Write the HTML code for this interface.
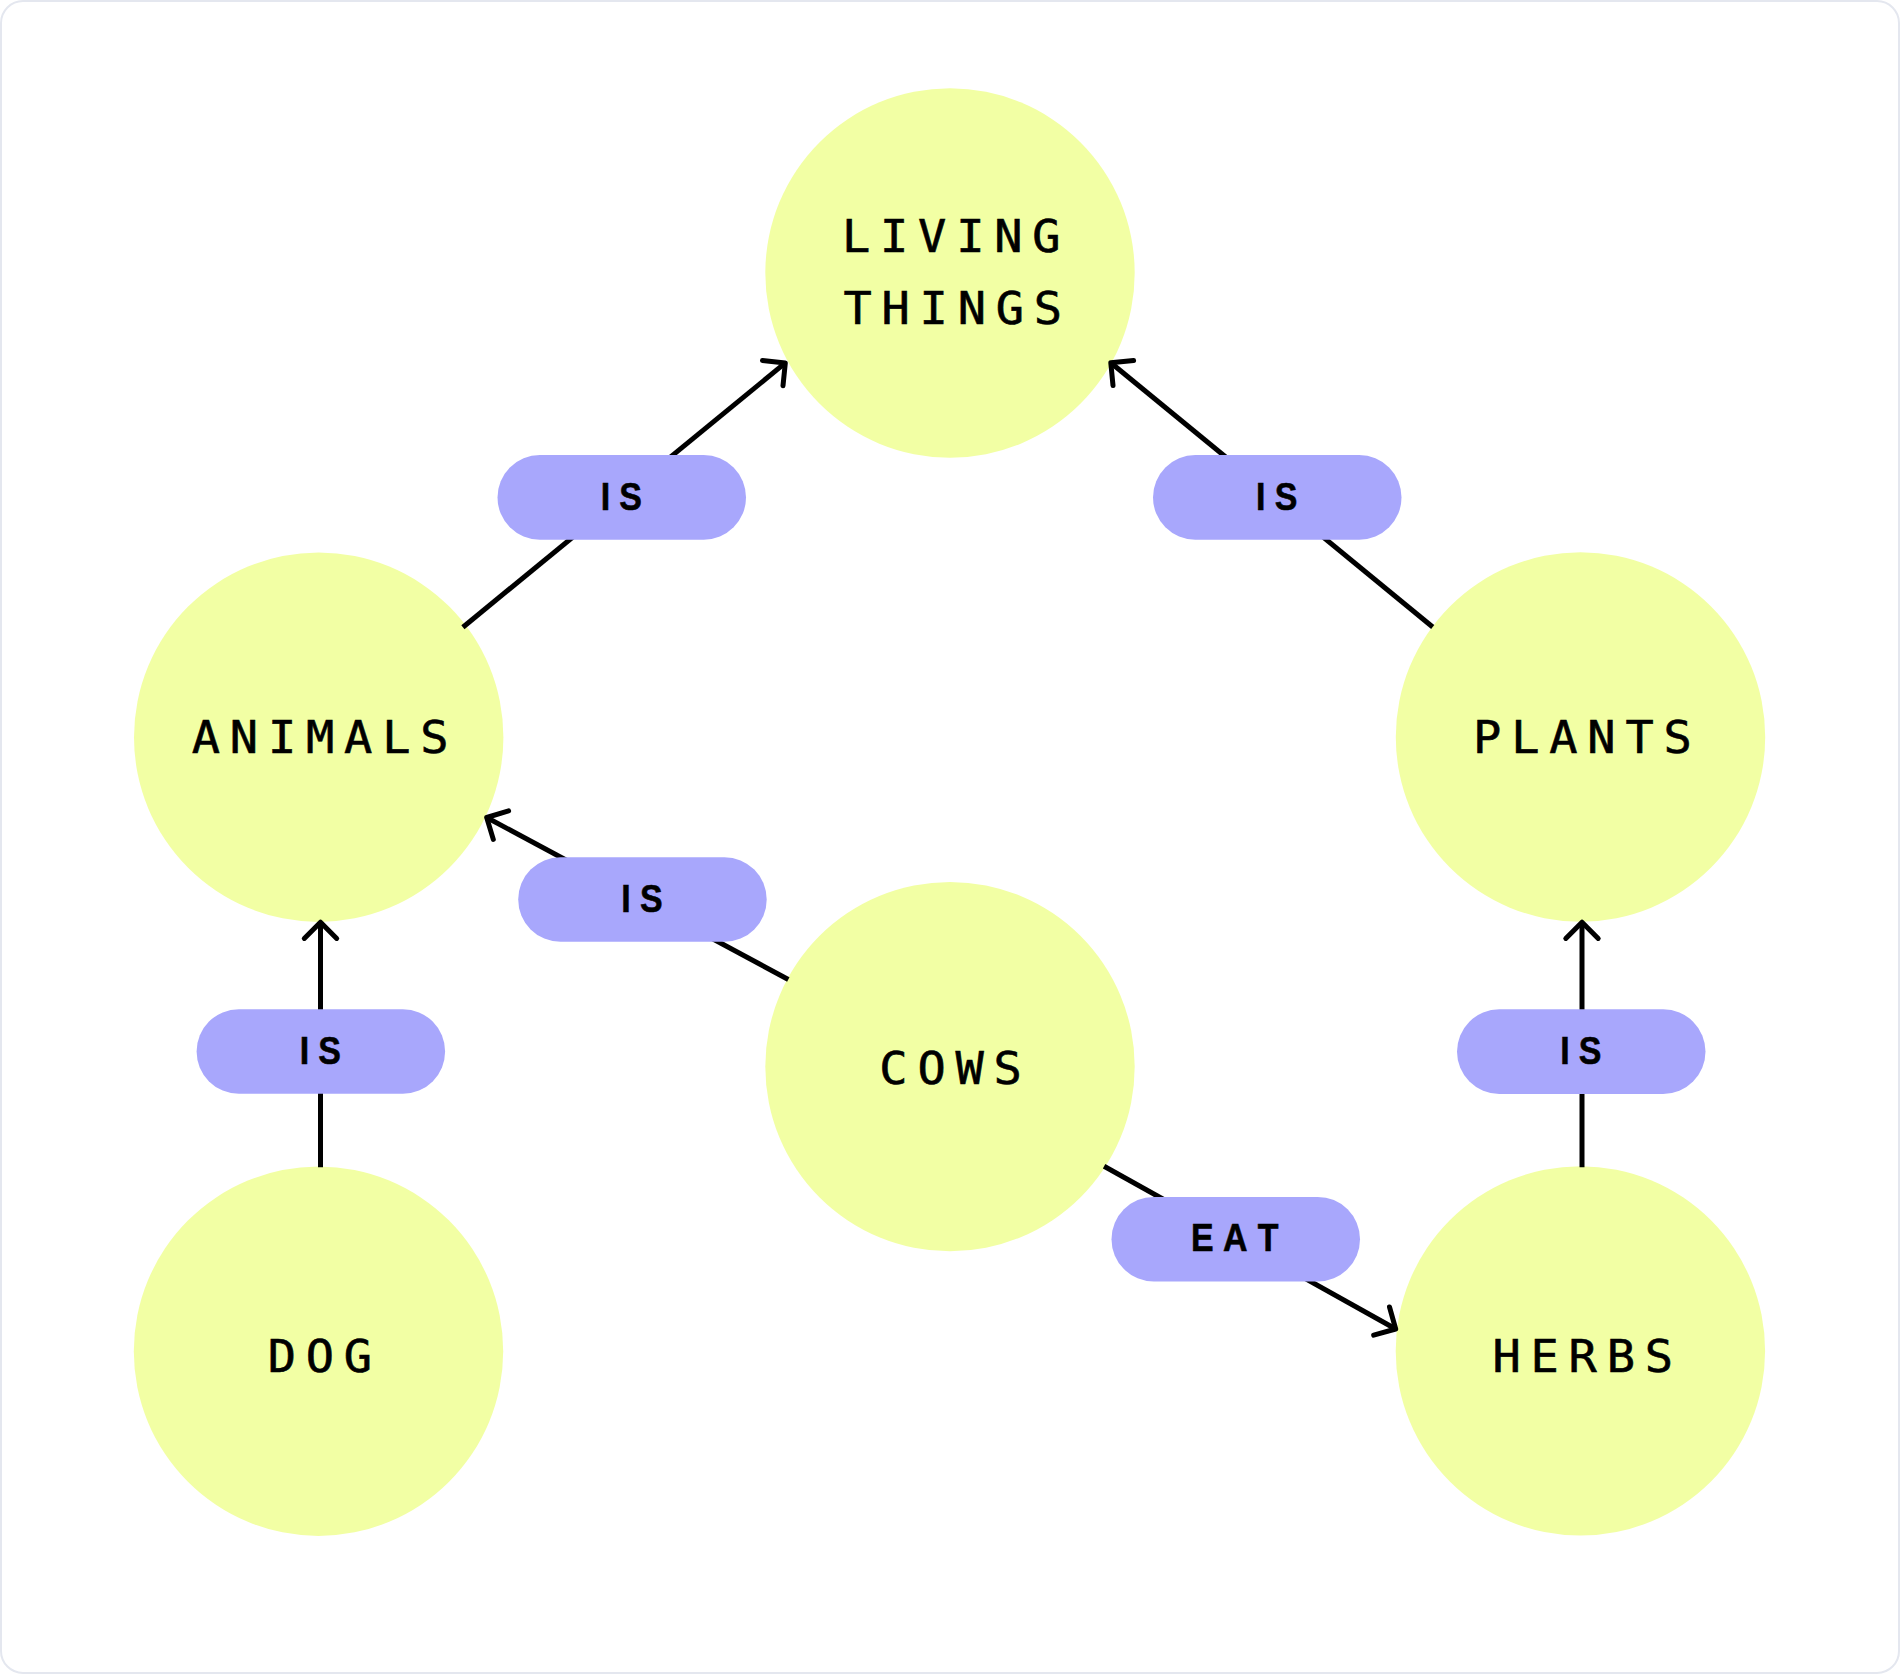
<!DOCTYPE html>
<html lang="en"><head><meta charset="utf-8"><title>Knowledge graph</title>
<style>
html,body{margin:0;padding:0;background:#fff;}
.frame{position:relative;width:1900px;height:1674px;box-sizing:border-box;border:2px solid #e4e7ef;border-radius:23px;background:#fff;overflow:hidden;}
svg{position:absolute;left:-2px;top:-2px;}
.node{font-family:"DejaVu Sans Mono","Liberation Mono",monospace;font-size:44.3px;letter-spacing:9.27px;fill:#000;stroke:#000;stroke-width:0.6;}
.rel{font-family:"Liberation Sans",sans-serif;font-weight:bold;font-size:39.0px;fill:#000;stroke:#000;stroke-width:0.6;}
</style></head><body>
<div class="frame">
<svg width="1900" height="1674" viewBox="0 0 1900 1674">
<g fill="#f2ffa4">
<circle cx="950" cy="273.0" r="184.7"/>
<circle cx="318.7" cy="737.2" r="184.7"/>
<circle cx="1580.5" cy="737.0" r="184.7"/>
<circle cx="950" cy="1066.6" r="184.7"/>
<circle cx="318.5" cy="1351.2" r="184.7"/>
<circle cx="1580.4" cy="1350.9" r="184.7"/>
</g>
<g fill="none" stroke="#000" stroke-width="5">
<path d="M462.9 627.2L785.3 362.9"/>
<path d="M762.5 360.6L785.3 362.9L783.0 385.7" stroke-linecap="round" stroke-linejoin="round"/>
<path d="M1432.7 627.0L1110.8 362.8"/>
<path d="M1113.0 385.6L1110.8 362.8L1133.6 360.6" stroke-linecap="round" stroke-linejoin="round"/>
<path d="M788.3 979.5L486.7 817.5"/>
<path d="M493.3 839.4L486.7 817.5L508.6 810.9" stroke-linecap="round" stroke-linejoin="round"/>
<path d="M320.5 1167.3L320.5 922.2"/>
<path d="M304.3 938.4L320.5 922.2L336.7 938.4" stroke-linecap="round" stroke-linejoin="round"/>
<path d="M1582.0 1167.3L1582.0 922.2"/>
<path d="M1565.8 938.4L1582.0 922.2L1598.2 938.4" stroke-linecap="round" stroke-linejoin="round"/>
<path d="M1104.1 1166.2L1395.7 1329.0"/>
<path d="M1389.5 1307.0L1395.7 1329.0L1373.7 1335.2" stroke-linecap="round" stroke-linejoin="round"/>
</g>
<g fill="#a8a7fc">
<rect x="497.5" y="455.1" width="248.5" height="84.6" rx="42.3"/>
<rect x="1153.0" y="455.1" width="248.5" height="84.6" rx="42.3"/>
<rect x="518.2" y="857.2" width="248.5" height="84.6" rx="42.3"/>
<rect x="196.6" y="1009.2" width="248.5" height="84.6" rx="42.3"/>
<rect x="1457.0" y="1009.3" width="248.5" height="84.6" rx="42.3"/>
<rect x="1111.5" y="1196.9" width="248.5" height="84.6" rx="42.3"/>
</g>
<text class="node" transform="translate(841.89 251.90) scale(1.06 1)">LIVING</text>
<text class="node" transform="translate(843.44 323.80) scale(1.06 1)">THINGS</text>
<text class="node" transform="translate(191.77 752.50) scale(1.06 1)">ANIMALS</text>
<text class="node" transform="translate(1473.10 752.60) scale(1.06 1)">PLANTS</text>
<text class="node" transform="translate(879.33 1083.50) scale(1.06 1)">COWS</text>
<text class="node" transform="translate(267.68 1372.40) scale(1.06 1)">DOG</text>
<text class="node" transform="translate(1492.38 1372.40) scale(1.06 1)">HERBS</text>
<text class="rel" transform="translate(600.66 509.62) scale(0.87 1)" x="0.00 21.50" y="0">IS</text>
<text class="rel" transform="translate(1256.06 509.62) scale(0.87 1)" x="0.00 21.50" y="0">IS</text>
<text class="rel" transform="translate(621.36 911.72) scale(0.87 1)" x="0.00 21.50" y="0">IS</text>
<text class="rel" transform="translate(299.66 1063.72) scale(0.87 1)" x="0.00 21.50" y="0">IS</text>
<text class="rel" transform="translate(1560.16 1063.82) scale(0.87 1)" x="0.00 21.50" y="0">IS</text>
<text class="rel" transform="translate(1191.12 1251.42) scale(0.87 1)" x="0.00 36.65 76.47" y="0">EAT</text>
</svg></div></body></html>
